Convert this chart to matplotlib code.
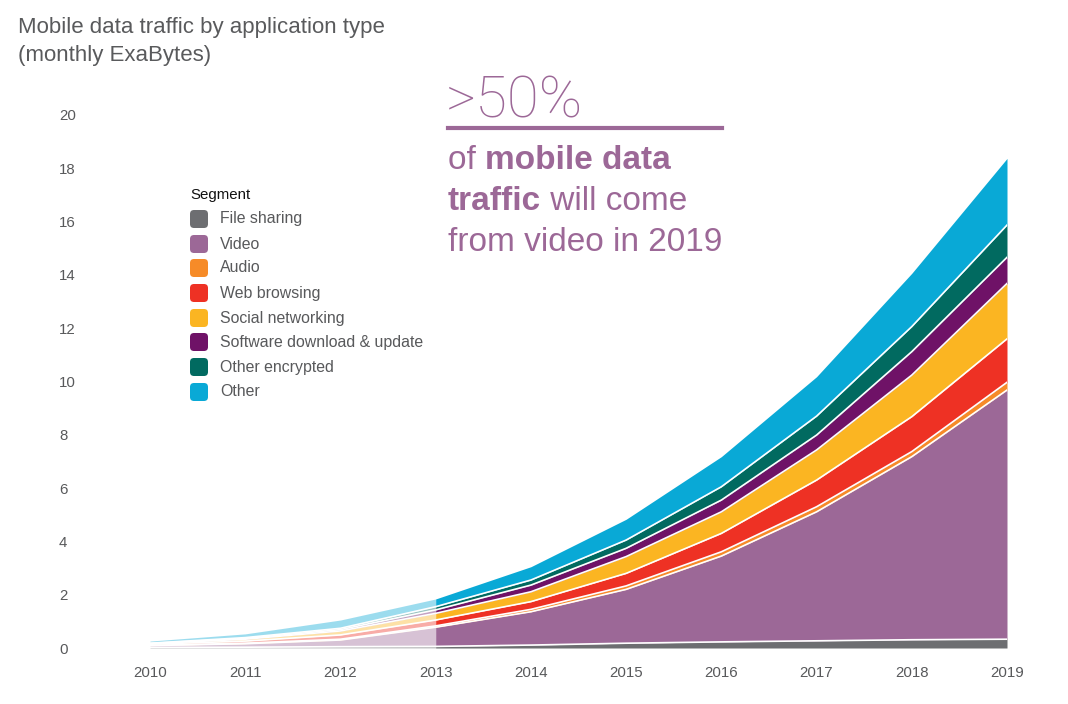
import numpy as np
import matplotlib
matplotlib.use("Agg")
import matplotlib.pyplot as plt
from matplotlib.patches import FancyBboxPatch
from matplotlib.transforms import IdentityTransform

plt.rcParams['font.family'] = ['Liberation Sans', 'DejaVu Sans']

years = [2010, 2011, 2012, 2013, 2014, 2015, 2016, 2017, 2018, 2019]
segments = ["File sharing", "Video", "Audio", "Web browsing", "Social networking",
            "Software download & update", "Other encrypted", "Other"]
file_sharing = [0.02, 0.03, 0.05, 0.06, 0.11, 0.18, 0.23, 0.27, 0.31, 0.33]
video = [0.07, 0.13, 0.25, 0.72, 1.25, 2.02, 3.22, 4.84, 6.87, 9.35]
audio = [0.01, 0.02, 0.03, 0.05, 0.09, 0.13, 0.16, 0.19, 0.19, 0.29]
web_browsing = [0.04, 0.08, 0.16, 0.22, 0.29, 0.47, 0.69, 1.00, 1.31, 1.63]
social_networking = [0.02, 0.07, 0.15, 0.25, 0.37, 0.63, 0.81, 1.13, 1.56, 2.08]
software_update = [0.01, 0.03, 0.05, 0.13, 0.25, 0.31, 0.44, 0.56, 0.88, 0.98]
other_encrypted = [0.01, 0.03, 0.05, 0.12, 0.19, 0.31, 0.50, 0.71, 0.94, 1.21]
other = [0.08, 0.14, 0.31, 0.29, 0.50, 0.78, 1.13, 1.48, 2.00, 2.50]
colors = ["#6d6e71", "#9c6897", "#f68b28", "#ee3124", "#fbb522",
          "#6f1267", "#016a60", "#09a9d6"]
y_ticks = [0, 2, 4, 6, 8, 10, 12, 14, 16, 18, 20]

series = [file_sharing, video, audio, web_browsing, social_networking,
          software_update, other_encrypted, other]

W, H = 1068, 704
fig = plt.figure(figsize=(W / 100, H / 100), dpi=100)
ax = fig.add_axes([150 / W, (H - 648) / H, (1007 - 150) / W, (648 - 115) / H])

x = np.array(years, dtype=float)
data = np.array(series)
tops = np.cumsum(data, axis=0)
bottoms = np.vstack([np.zeros(len(x)), tops[:-1]])

split = years.index(2013)
for i in range(len(series)):
    ax.fill_between(x[:split + 1], bottoms[i][:split + 1], tops[i][:split + 1],
                    color=colors[i], alpha=0.4, linewidth=0, zorder=2)
    ax.fill_between(x[split:], bottoms[i][split:], tops[i][split:],
                    color=colors[i], linewidth=0, zorder=2)
for i in range(len(series) - 1):
    ax.plot(x, tops[i], color="white", linewidth=1.2, zorder=3,
            solid_joinstyle="miter")
ax.axhline(0, color="#d9d9da", linewidth=1.2, zorder=1)

ax.set_xlim(2010, 2019)
ax.set_ylim(0, 20)
for s in ax.spines.values():
    s.set_visible(False)
ax.set_xticks(years)
ax.set_xticklabels([str(y) for y in years])
ax.set_yticks(y_ticks)
ax.set_yticklabels([str(v) for v in y_ticks])
ax.tick_params(axis="both", length=0, labelsize=10.8, labelcolor="#58595b")
ax.tick_params(axis="x", pad=13)
ax.tick_params(axis="y", pad=65.5)
for lbl in ax.get_yticklabels():
    lbl.set_horizontalalignment("left")

# Title
fig.text(18 / W, 1 - 28 / H, "Mobile data traffic by application type",
         fontsize=16, color="#595a5c", va="center", ha="left")
fig.text(18 / W, 1 - 56 / H, "(monthly ExaBytes)",
         fontsize=16, color="#595a5c", va="center", ha="left")

# Legend (manual)
fig.text(190 / W, 1 - 195 / H, "Segment", fontsize=10.8, color="#111111",
         va="center", ha="left")
leg_y = [219, 244, 268, 293, 318, 342, 367, 392]
for name, col, yy in zip(segments, colors, leg_y):
    p = FancyBboxPatch((190, H - yy - 9), 18, 18,
                       boxstyle="round,pad=0,rounding_size=4",
                       facecolor=col, edgecolor="none",
                       transform=IdentityTransform())
    fig.patches.append(p)
    fig.text(220 / W, 1 - yy / H, name, fontsize=11.4, color="#58595b",
             va="center", ha="left")

# Annotation
purple = "#9c6897"
fig.text(446 / W, 1 - 118 / H, ">50%", fontsize=42, color=purple,
         fontfamily=["Roboto", "DejaVu Sans"], fontweight="light",
         va="baseline", ha="left")
fig.add_artist(plt.Line2D([448 / W, 722 / W], [1 - 128 / H, 1 - 128 / H],
                          color=purple, linewidth=3, transform=fig.transFigure))

renderer = fig.canvas.get_renderer()
lines = [
    [("of ", "normal"), ("mobile data", "bold")],
    [("traffic", "bold"), (" will come", "normal")],
    [("from video in 2019", "normal")],
]
baselines = [169, 210, 251]
for parts, base in zip(lines, baselines):
    xpix = 448
    for txt, wt in parts:
        t = fig.text(xpix / W, 1 - base / H, txt, fontsize=24, color=purple,
                     fontweight=wt, va="baseline", ha="left")
        bb = t.get_window_extent(renderer=renderer)
        xpix += bb.width

fig.savefig("out.png", dpi=100)
